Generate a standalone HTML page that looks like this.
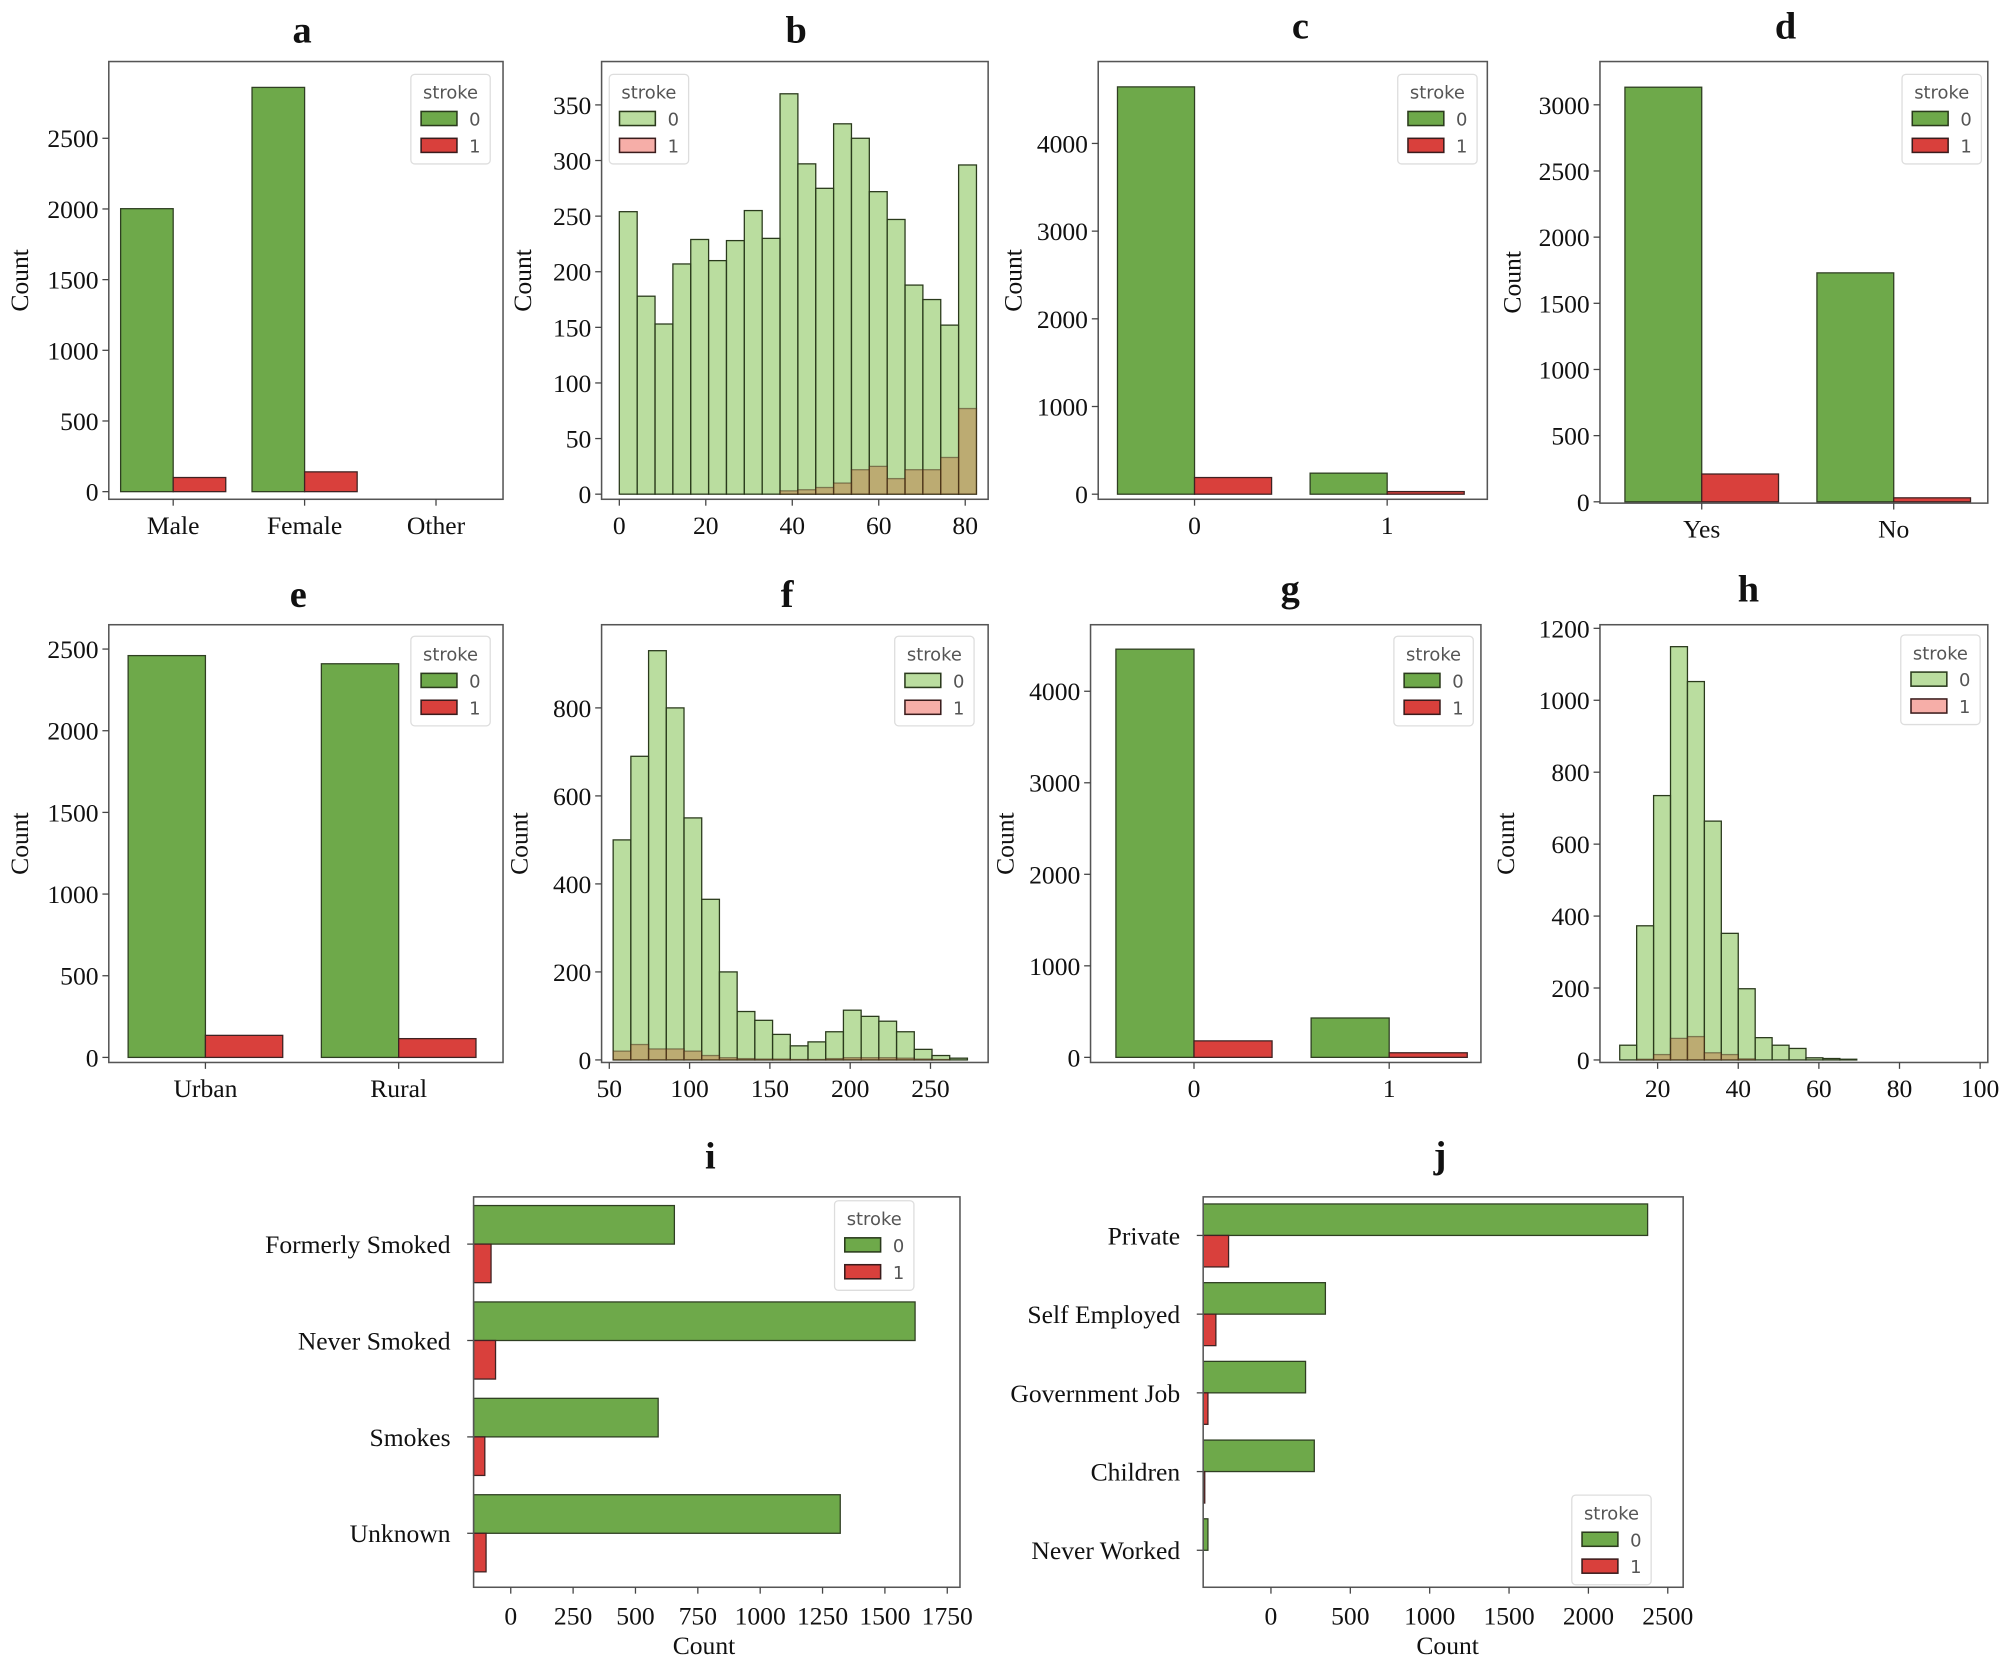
<!DOCTYPE html>
<html><head><meta charset="utf-8"><title>Stroke dataset distributions</title>
<style>
html,body{margin:0;padding:0;background:#fff;}
svg{display:block;}
.t{font-family:"Liberation Serif",serif;fill:#111;}
.s{font-family:"DejaVu Sans","Liberation Sans",sans-serif;fill:#555;}
</style></head>
<body>
<svg id="fig" xmlns="http://www.w3.org/2000/svg" width="2007" height="1668" viewBox="0 0 1568 1303"></svg>
<script>
// ---- data ----
const genderCats = ["Male","Female","Other"];
const genderNo = [2002,2860,0];
const genderYes = [100,140,0];
const ageBinStart = 0, ageBinWidth = 4.13;
const ageNo = [254,178,153,207,229,210,228,255,230,360,297,275,333,320,272,247,188,175,152,296];
const ageYes = [0,0,0,0,0,0,0,0,0,3,4,6,10,22,25,14,22,22,33,77];
const hyperCats = ["0","1"];
const hyperNo = [4645,240];
const hyperYes = [190,30];
const marriedCats = ["Yes","No"];
const marriedNo = [3133,1730];
const marriedYes = [210,30];
const residenceCats = ["Urban","Rural"];
const residenceNo = [2460,2410];
const residenceYes = [135,115];
const glucoseBinStart = 52.4, glucoseBinWidth = 11.03;
const glucoseNo = [500,690,930,800,550,365,200,110,90,58,32,41,64,113,99,88,64,24,10,4];
const glucoseYes = [20,35,25,25,20,10,5,3,2,2,1,1,3,5,5,5,4,2,1,0];
const heartCats = ["0","1"];
const heartNo = [4460,430];
const heartYes = [180,50];
const bmiBinStart = 10.6, bmiBinWidth = 4.2;
const bmiNo = [41,373,735,1149,1052,664,352,198,62,41,32,6,4,2];
const bmiYes = [0,2,15,60,65,20,15,3,0,0,0,0,0,0];
const smokeCats = ["Formerly Smoked","Never Smoked","Smokes","Unknown"];
const smokeNo = [805,1770,740,1470];
const smokeYes = [70,88,45,50];
const workCats = ["Private","Self Employed","Government Job","Children","Never Worked"];
const workNo = [2800,770,645,700,30];
const workYes = [160,80,30,10,0];
const yTicksA = [0,500,1000,1500,2000,2500];
const yTicksB = [0,50,100,150,200,250,300,350];
const xTicksB = [0,20,40,60,80];
const yTicksC = [0,1000,2000,3000,4000];
const yTicksD = [0,500,1000,1500,2000,2500,3000];
const yTicksE = [0,500,1000,1500,2000,2500];
const yTicksF = [0,200,400,600,800];
const xTicksF = [50,100,150,200,250];
const yTicksH = [0,200,400,600,800,1000,1200];
const xTicksH = [20,40,60,80,100];
const xTicksI = [0,250,500,750,1000,1250,1500,1750];
const xTicksJ = [0,500,1000,1500,2000,2500];

const NS = "http://www.w3.org/2000/svg";
const fig = document.getElementById('fig');
const G_DARK = "#6ea94a", R_DARK = "#d9403c", G_LIGHT = "rgba(140,198,95,0.6)", R_LIGHT = "rgba(190,110,60,0.45)";

function mk(parent, tag, attrs, name){
  const el = document.createElementNS(NS, tag);
  for (const k in attrs) el.setAttribute(k, attrs[k]);
  
  
  parent.appendChild(el);
  return el;
}
function txt(parent, x, y, s, size, name, cls, anchor, extra){
  const a = Object.assign({x:x, y:y, 'font-size':size, 'text-anchor':anchor||'middle', class:cls||'t'}, extra||{});
  const el = mk(parent, 'text', a, name);
  el.textContent = s;
  return el;
}
function lin(d0,d1,r0,r1){ return v => r0 + (v-d0)/(d1-d0)*(r1-r0); }

function frame(g, b){
  mk(g,'rect',{x:b.x0,y:b.y0,width:b.x1-b.x0,height:b.y1-b.y0,fill:'none',stroke:'#555','stroke-width':1.2},'axes-frame');
}
function legend(g, x, y, light, name){
  const lg = mk(g,'g',{},name||'legend');
  mk(lg,'rect',{x:x,y:y,width:62,height:70,rx:3,fill:'#fff',stroke:'#ddd','stroke-width':1},'legend-box');
  txt(lg, x+31, y+19, 'stroke', 14, 'legend-title', 's');
  mk(lg,'rect',{x:x+8,y:y+29,width:28,height:11,fill:light?G_LIGHT:G_DARK,stroke:'#2a3a1c','stroke-width':1.2},'legend-swatch-0');
  txt(lg, x+50, y+40, '0', 14, 'legend-label-0', 's');
  mk(lg,'rect',{x:x+8,y:y+50,width:28,height:11,fill:light?'rgba(240,120,110,0.6)':R_DARK,stroke:'#3a1c1c','stroke-width':1.2},'legend-swatch-1');
  txt(lg, x+50, y+61, '1', 14, 'legend-label-1', 's');
}
function yAxis(g, b, ys, ticks, labX){
  ticks.forEach(t=>{
    const y = ys(t);
    mk(g,'line',{x1:b.x0-5,x2:b.x0,y1:y,y2:y,stroke:'#444'},'y-tick');
    txt(g, b.x0-8, y+7, String(t), 20, 'y-tick-label', 't', 'end');
  });
  txt(g, labX, (b.y0+b.y1)/2, 'Count', 20, 'y-axis-title', 't', 'middle', {transform:`rotate(-90 ${labX} ${(b.y0+b.y1)/2})`});
}
function xAxis(g, b, xs, ticks, labels){
  ticks.forEach((t,i)=>{
    const x = xs(t);
    mk(g,'line',{x1:x,x2:x,y1:b.y1,y2:b.y1+5,stroke:'#444'},'x-tick');
    txt(g, x, b.y1+27, labels?labels[i]:String(t), 20, 'x-tick-label');
  });
}
function title(s, x, y){ txt(fig, x, y, s, 30, 'panel-title-'+s, 't', 'middle', {'font-weight':'bold'}); }

function catPanel(name, b, xd, yd, cats, no, yes, yt, labX, leg){
  const g = mk(fig,'g',{},name);
  const xs = lin(xd[0],xd[1],b.x0,b.x1), ys = lin(yd[0],yd[1],b.y1,b.y0);
  const w = 0.4;
  cats.forEach((c,i)=>{
    if(no[i]>0) mk(g,'rect',{x:xs(i-w),y:ys(no[i]),width:xs(i)-xs(i-w),height:ys(0)-ys(no[i]),fill:G_DARK,stroke:'#2f3f22','stroke-width':1},'bar-'+c+'-0');
    if(yes[i]>0) mk(g,'rect',{x:xs(i),y:ys(yes[i]),width:xs(i+w)-xs(i),height:ys(0)-ys(yes[i]),fill:R_DARK,stroke:'#3f2222','stroke-width':1},'bar-'+c+'-1');
  });
  frame(g,b);
  yAxis(g,b,ys,yt,labX);
  xAxis(g,b,xs,cats.map((c,i)=>i),cats);
  legend(g, leg[0], leg[1], false);
}
function histPanel(name, b, xd, yd, start, width, no, yes, yt, xt, labX, leg){
  const g = mk(fig,'g',{},name);
  const xs = lin(xd[0],xd[1],b.x0,b.x1), ys = lin(yd[0],yd[1],b.y1,b.y0);
  no.forEach((v,i)=>{
    const a = start+i*width;
    mk(g,'rect',{x:xs(a),y:ys(v),width:xs(a+width)-xs(a),height:ys(0)-ys(v),fill:G_LIGHT,stroke:'#2a3a1c','stroke-width':1},'hist-bar-0');
  });
  yes.forEach((v,i)=>{
    if(v<=0) return;
    const a = start+i*width;
    mk(g,'rect',{x:xs(a),y:ys(v),width:xs(a+width)-xs(a),height:ys(0)-ys(v),fill:R_LIGHT,stroke:'rgba(60,40,20,0.5)','stroke-width':1},'hist-bar-1');
  });
  frame(g,b);
  yAxis(g,b,ys,yt,labX);
  xAxis(g,b,xs,xt);
  legend(g, leg[0], leg[1], true);
}
function hbarPanel(name, b, xd, yd, cats, no, yes, xt, leg, titleX){
  const g = mk(fig,'g',{},name);
  const xs = lin(xd[0],xd[1],b.x0,b.x1), ys = lin(yd[0],yd[1],b.y0,b.y1);
  const base = xd[0], h = 0.4;
  cats.forEach((c,i)=>{
    mk(g,'rect',{x:xs(base),y:ys(i-h),width:xs(base+no[i])-xs(base),height:ys(i)-ys(i-h),fill:G_DARK,stroke:'#2f3f22','stroke-width':1},'bar-'+c+'-0');
    if(yes[i]>0) mk(g,'rect',{x:xs(base),y:ys(i),width:xs(base+yes[i])-xs(base),height:ys(i+h)-ys(i),fill:R_DARK,stroke:'#3f2222','stroke-width':1},'bar-'+c+'-1');
    mk(g,'line',{x1:b.x0-5,x2:b.x0,y1:ys(i),y2:ys(i),stroke:'#444'},'y-tick');
    txt(g, b.x0-18, ys(i)+7, c, 20, 'y-tick-label', 't', 'end');
  });
  frame(g,b);
  xt.forEach(t=>{
    const x = xs(t);
    mk(g,'line',{x1:x,x2:x,y1:b.y1,y2:b.y1+5,stroke:'#444'},'x-tick');
    txt(g, x, b.y1+29, String(t), 20, 'x-tick-label');
  });
  txt(g, titleX, b.y1+52, 'Count', 20, 'x-axis-title');
  legend(g, leg[0], leg[1], false);
}

title('a',236,33); title('b',622,33); title('c',1016,30); title('d',1395,30);
title('e',233,474); title('f',615,474); title('g',1008,470); title('h',1366,470);
title('i',555,913); title('j',1125,912);

catPanel('panel-a-gender',{x0:85,x1:393,y0:48,y1:390},[-0.49,2.51],[-54,3043],genderCats,genderNo,genderYes,yTicksA,22,[321,58]);
histPanel('panel-b-age',{x0:470,x1:772,y0:48,y1:390},[-4.1,85.3],[-4.6,389],ageBinStart,ageBinWidth,ageNo,ageYes,yTicksB,xTicksB,415,[476,58]);
catPanel('panel-c-hypertension',{x0:858,x1:1162,y0:48,y1:390},[-0.5,1.52],[-58,4934],hyperCats,hyperNo,hyperYes,yTicksC,798,[1092,58]);
catPanel('panel-d-ever-married',{x0:1250,x1:1553,y0:48,y1:393},[-0.53,1.49],[-10,3327],marriedCats,marriedNo,marriedYes,yTicksD,1188,[1486,58]);
catPanel('panel-e-residence',{x0:85,x1:393,y0:488,y1:830},[-0.5,1.54],[-31,2649],residenceCats,residenceNo,residenceYes,yTicksE,22,[321,497]);
histPanel('panel-f-glucose',{x0:470,x1:772,y0:488,y1:830},[45.2,285.9],[-5.8,989],glucoseBinStart,glucoseBinWidth,glucoseNo,glucoseYes,yTicksF,xTicksF,412,[699,497]);
catPanel('panel-g-heart-disease',{x0:852,x1:1157,y0:488,y1:830},[-0.53,1.47],[-56,4727],heartCats,heartNo,heartYes,yTicksC,792,[1089,497]);
histPanel('panel-h-bmi',{x0:1250,x1:1553,y0:488,y1:830},[5.7,101.9],[-7,1210],bmiBinStart,bmiBinWidth,bmiNo,bmiYes,yTicksH,xTicksH,1183,[1485,496]);
hbarPanel('panel-i-smoking',{x0:370,x1:750,y0:935,y1:1240},[-149,1801],[-0.49,3.56],smokeCats,smokeNo,smokeYes,xTicksI,[652,938],550);
hbarPanel('panel-j-work-type',{x0:940,x1:1315,y0:935,y1:1240},[-427,2597],[-0.49,4.47],workCats,workNo,workYes,xTicksJ,[1228,1168],1131);
</script>
</body></html>
